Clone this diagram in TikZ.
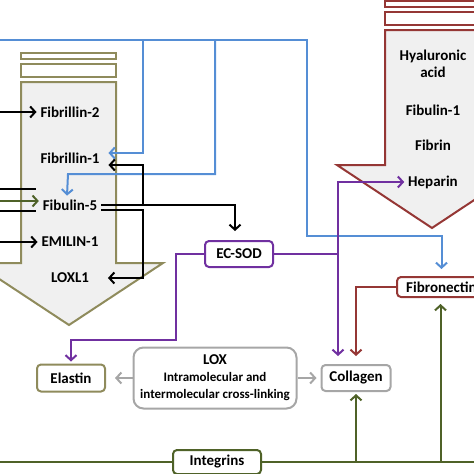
\documentclass[tikz,border=0pt]{standalone}
\usepackage{fontspec}
\setmainfont{Carlito}
\usetikzlibrary{arrows,arrows.meta,calc}
\usetikzlibrary{positioning}
\definecolor{khaki}{RGB}{143,139,92}
\definecolor{olivegreen}{RGB}{79,98,40}
\definecolor{skyblue}{RGB}{85,142,213}
\definecolor{darkred}{RGB}{149,55,53}
\definecolor{ecpurple}{RGB}{112,48,160}
\definecolor{boxgray}{RGB}{166,166,166}
\newcommand{\subtxt}{\fontsize{13}{15}\selectfont}

\begin{document}
\begin{tikzpicture}[x=1pt,y=-1pt,line width=2pt]
% text and box styles
\tikzstyle{txt}=[font=\bfseries\fontsize{15}{17}\selectfont,inner sep=3pt,align=center]
\tikzstyle{box}=[txt,draw,fill=white,rounded corners=4pt,minimum height=26pt,inner sep=0pt]
\tikzstyle{link}=[->,>={Straight Barb[length=5pt,width=11pt]}]

\useasboundingbox (0,0) rectangle (474,474);
\clip (0,0) rectangle (474,474);

% big arrows
\draw[khaki,fill=white] (21,53) rectangle (116,59);
\draw[khaki,fill=white] (21,64) rectangle (116,77);
\draw[khaki,fill=black!6] (21,82) -- (116,82) -- (116,263) -- (163,263) -- (69,325) -- (-25,263) -- (21,263) -- cycle;
\draw[darkred,fill=white] (385,1) rectangle (480,7);
\draw[darkred,fill=white] (385,12) rectangle (480,25);
\draw[darkred,fill=black!6] (385,30) -- (480,30) -- (480,165) -- (527,165) -- (432,228) -- (337,165) -- (385,165) -- cycle;

% nodes
\foreach \name/\y/\txt in {fib2/112/Fibrillin-2,fib1/158/Fibrillin-1,fbln5/205/Fibulin-5,emilin/242/EMILIN-1,loxl/278/LOXL1}
\node[txt] (\name) at (70,\y) {\txt};
\node[txt,inner sep=0pt] (hyal) at (433,64) {Hyaluronic\\acid};
\foreach \name/\y/\txt in {fbln1/110/Fibulin-1,fibrin/145/Fibrin,heparin/182/Heparin}
\node[txt] (\name) at (433,\y) {\txt};

\node[box,draw=ecpurple,minimum width=68pt] (ecsod) at (239,254) {EC-SOD};
\node[box,draw=khaki,minimum width=68pt,minimum height=27pt] (elastin) at (71,378) {Elastin};
\node[box,draw=boxgray,rounded corners=10pt,minimum width=163pt,minimum height=61pt] (lox) at (215,378)
  {LOX\\\subtxt Intramolecular and\\\subtxt intermolecular cross-linking};
\node[box,draw=boxgray,minimum width=69pt] (collagen) at (356,378) {Collagen};
\node[box,draw=darkred,minimum width=89pt,minimum height=20pt] (fibro) at (441.5,287) {Fibronectin};
\node[box,draw=olivegreen,minimum width=88pt,minimum height=24pt] (integ) at (217,462) {Integrins};

% inputs on the left
\foreach \y/\to in {112/fib2,242/emilin}
\draw[link] (0,\y) -- (\to.west);
\foreach \y in {189,211}
\draw (0,\y) -- (36,\y);
\draw[link,olivegreen] (0,201) -- ([yshift=4pt]fbln5.west);

% blue arrows
\coordinate (bin) at (0,40);
\draw[link,skyblue,shorten >=7pt] (bin) -| (307,236) -| (fibro.north);
\draw[link,skyblue] (143,40) |- ([xshift=5pt,yshift=5pt]fib1.east);
\draw[link,skyblue] (215,40) |- (68,174) -- ([xshift=-3pt]fbln5.north);

% black arrows
\draw[link] (fbln5.east) -| (143,165) -- ([xshift=5pt,yshift=-7pt]fib1.east);
\draw[link,shorten >=9pt] (fbln5.east) -| ([xshift=-4pt]ecsod.north);
\draw[link] ([yshift=-5pt]fbln5.east) -| (143,278) -- ([xshift=15pt]loxl.east);

% purple arrows
\draw[link,ecpurple,shorten >=2pt] (ecsod.west) -| (176,340) -| (elastin.north);
\draw[link,ecpurple,shorten >=8pt] (ecsod.east) -| ([xshift=-18pt]collagen.north);
\draw[link,ecpurple] (338,254) |- (heparin.west);

% red, gray and green arrows
\draw[link,darkred,shorten >=8pt] (fibro.west) -| (collagen.north);
\draw[link,boxgray,shorten >=9pt] (lox.west) -- (elastin.east);
\draw[link,boxgray,shorten >=4pt] (lox.east) -- (collagen.west);
\draw[olivegreen] (0,462) -- (integ.west);
\draw[olivegreen] (integ.east) -- (474,462);
\draw[link,olivegreen,shorten >=2pt] (integ.east) -| (collagen.south);
\draw[link,olivegreen,shorten >=6pt] (integ.east) -| ([xshift=-1pt]fibro.south);
\end{tikzpicture}
\end{document}
